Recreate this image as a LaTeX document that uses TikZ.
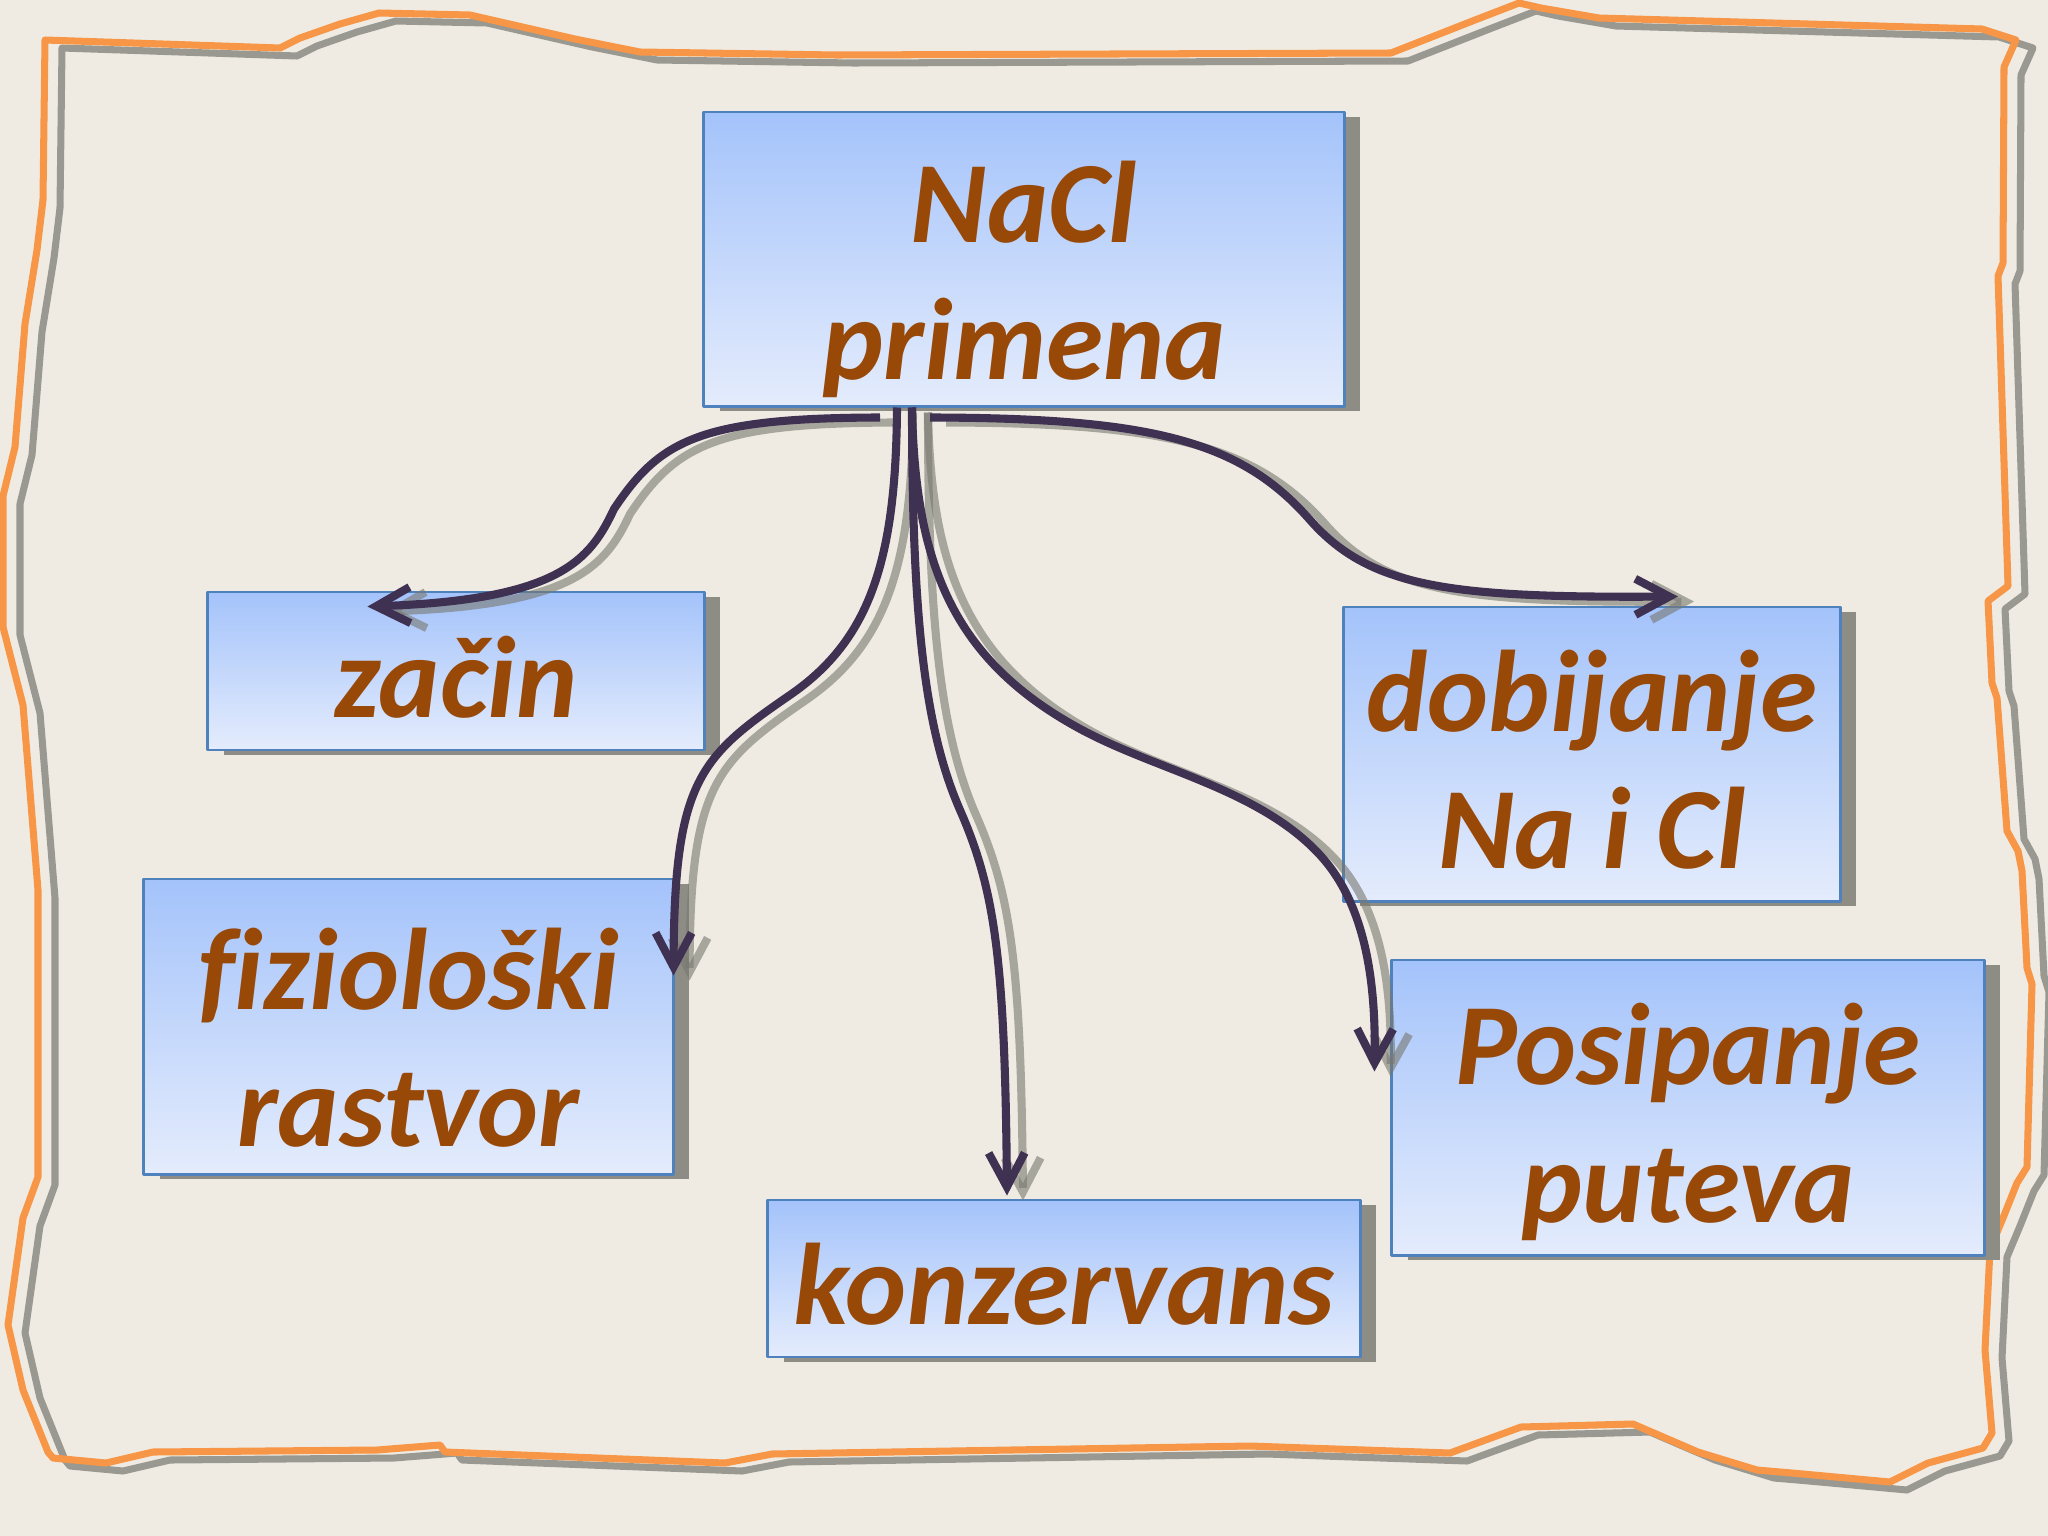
\documentclass[tikz,border=0pt]{standalone}
\usepackage{fontspec}
\setmainfont{Carlito}[Ligatures=NoCommon]
\usetikzlibrary{arrows.meta,shadows}
\definecolor{paper}{RGB}{239,235,226}
\definecolor{frameorange}{RGB}{247,150,70}
\definecolor{frameshade}{RGB}{154,153,145}
\definecolor{boxtop}{RGB}{164,195,251}
\definecolor{boxbottom}{RGB}{228,236,252}
\definecolor{boxline}{RGB}{79,129,189}
\definecolor{boxshade}{RGB}{142,141,133}
\definecolor{textbrown}{RGB}{152,72,7}
\definecolor{linkpurple}{RGB}{63,49,81}
\definecolor{linkshade}{RGB}{120,120,112}
\newcommand\boxstrut[1]{\rule{0pt}{#1em}}
\begin{document}
\begin{tikzpicture}
  [
  x=0.01cm, y=-0.01cm, line join=round,
  frame/.style={draw=frameorange, line width=2pt,
    preaction={draw=frameshade, line width=2pt, transform canvas={shift={(17,8)}}}},
  box/.style={rectangle, inner sep=0pt, draw=boxline, line width=0.8pt,
    top color=boxtop, bottom color=boxbottom,
    general shadow={fill=boxshade, shadow xshift=0.16cm, shadow yshift=-0.05cm},
    align=center, text=textbrown,
    font=\fontsize{33}{39}\selectfont\bfseries\itshape},
  link/.style={draw=linkpurple, line width=2.3pt,
    -{Straight Barb[length=3.4mm, width=3.6mm].},
    preaction={draw=linkshade, line width=2.3pt, draw opacity=0.6,
      transform canvas={shift={(16,5)}}}}
  ]

\useasboundingbox (0,0) rectangle (2048,1536);
\fill[paper] (0,0) rectangle (2048,1536);

\draw[frame] (45,40) -- (280,48) -- (300,38) -- (340,24) -- (379,13) -- (470,15)
  -- (575,39) -- (640,52) -- (836,55) -- (1391,53) -- (1475,20) -- (1519,3)
  -- (1541,8) -- (1599,18) -- (1982,29) -- (2016,40) -- (2004,67) -- (2003,263)
  -- (1998,276) -- (2008,586) -- (1988,601) -- (1992,683) -- (1997,698)
  -- (2007,831) -- (2018,851) -- (2022,871) -- (2027,968) -- (2032,984)
  -- (2027,1167) -- (2017,1183) -- (2003,1218) -- (1990,1249) -- (1985,1350)
  -- (1992,1433) -- (1983,1448) -- (1928,1463) -- (1890,1482) -- (1792,1473)
  -- (1757,1470) -- (1698,1452) -- (1633,1424) -- (1521,1427) -- (1450,1453)
  -- (1250,1446) -- (772,1454) -- (725,1463) -- (445,1452) -- (440,1445)
  -- (377,1450) -- (153,1452) -- (106,1463) -- (53,1458) -- (48,1452)
  -- (23,1390) -- (8,1325) -- (23,1218) -- (38,1177) -- (38,890) -- (23,705)
  -- (3,627) -- (3,496) -- (15,447) -- (25,324) -- (37,250) -- (43,200) -- cycle;

\node[box, minimum width=6.4cm, minimum height=2.94cm] (nacl) at (1024,259) {\boxstrut{1.05}NaCl\\primena};
\node[box, minimum width=4.96cm, minimum height=1.58cm] (zacin) at (456,671) {\boxstrut{0.8}začin};
\node[box, minimum width=5.29cm, minimum height=2.95cm] (fizio) at (408.5,1026.5) {\boxstrut{0.9}fiziološki\\rastvor};
\node[box, minimum width=5.92cm, minimum height=1.57cm] (konz) at (1064,1278.5) {\boxstrut{0.8}konzervans};
\node[box, minimum width=4.96cm, minimum height=2.94cm] (dobij) at (1592,754) {\boxstrut{0.8}dobijanje\\Na i Cl};
\node[box, minimum width=5.92cm, minimum height=2.95cm] (posip) at (1688,1107.5) {\boxstrut{0.95}Posipanje\\puteva};

\draw[link] ([shift={(-144,10)}]nacl.south) .. controls (700,418) and (660,440) .. (614,509)
  .. controls (590,560) and (560,600) .. ([shift={(161,16)}]zacin.north west);
\draw[link] ([shift={(-127,0)}]nacl.south) .. controls (896,560) and (870,640) .. (790,695)
  .. controls (700,757) and (674,780) .. ([shift={(-1,98)}]fizio.north east);
\draw[link] ([shift={(-112,0)}]nacl.south) .. controls (912,620) and (925,730) .. (960,810)
  .. controls (995,890) and (1005,960) .. ([shift={(-57,-3)}]konz.north);
\draw[link] ([shift={(-112,0)}]nacl.south) .. controls (915,560) and (950,660) .. (1084,731)
  .. controls (1160,771) and (1260,790) .. (1320,855)
  .. controls (1365,904) and (1376,980) .. ([shift={(-16,113)}]posip.north west);
\draw[link] ([shift={(-94,10)}]nacl.south) .. controls (1150,418) and (1240,440) .. (1310,520)
  .. controls (1370,588) and (1450,598) .. ([shift={(86,-9)}]dobij.north);

\end{tikzpicture}
\end{document}
